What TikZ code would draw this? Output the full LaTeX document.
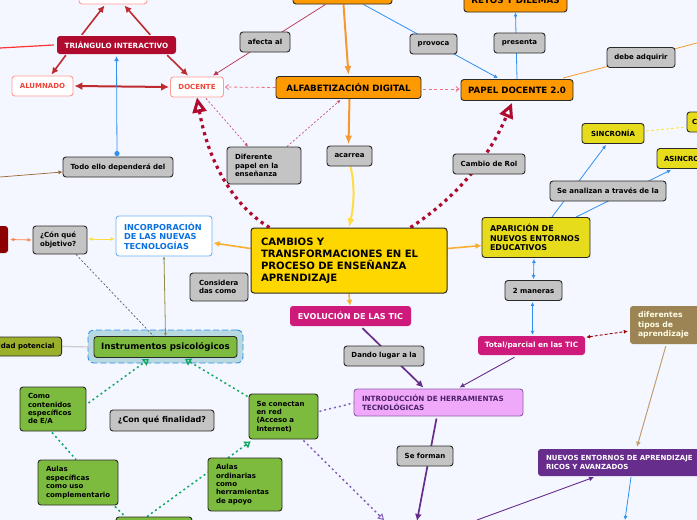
\documentclass[tikz,border=0pt]{standalone}
\usepackage{fontspec}
\setmainfont{DejaVu Sans}
\usepackage{tikz}
\usetikzlibrary{arrows.meta}
\pgfdeclarelayer{halolayer}
\pgfdeclarelayer{edgelayer}
\pgfsetlayers{halolayer,edgelayer,main}
\tikzset{>=latex}
\definecolor{mapback}{HTML}{F4F7FF}
\definecolor{grayfill}{HTML}{C4C4C4}
\definecolor{inkline}{HTML}{2A2A2A}
\definecolor{crimson}{HTML}{B00A2E}
\definecolor{redtext}{HTML}{F04438}
\definecolor{redline}{HTML}{FF9A98}
\definecolor{tribar}{HTML}{BE2A2E}
\definecolor{orangefill}{HTML}{FF9900}
\definecolor{orangeline}{HTML}{F7982E}
\definecolor{softorange}{HTML}{F9B030}
\definecolor{softyellow}{HTML}{FFDC40}
\definecolor{goldfill}{HTML}{FFD700}
\definecolor{limefill}{HTML}{E6DC1C}
\definecolor{greenfill}{HTML}{7DBB3E}
\definecolor{olivefill}{HTML}{9BAF2A}
\definecolor{magfill}{HTML}{CE1A7A}
\definecolor{purplefill}{HTML}{662D8C}
\definecolor{pinkfill}{HTML}{F0A8FA}
\definecolor{brownfill}{HTML}{9C8454}
\definecolor{tanline}{HTML}{C0A070}
\definecolor{bluetext}{HTML}{0A70E0}
\definecolor{blueline}{HTML}{2E90F0}
\definecolor{dotgreen}{HTML}{10A860}
\definecolor{dotviolet}{HTML}{8060B8}
\definecolor{dashpink}{HTML}{F07080}
\tikzset{
  mapnode/.style={rectangle, rounded corners=3pt, inner sep=0pt, align=left,
    font=\bfseries\fontsize{7}{8.4}\selectfont},
  sized/.style 2 args={minimum width=#1, minimum height=#2},
  graybox/.style={mapnode, fill=grayfill, draw=inkline, line width=0.9pt, text=black},
  orangebox/.style={mapnode, fill=orangefill, draw=inkline, line width=0.9pt, text=black,
    font=\bfseries\fontsize{8.7}{10}\selectfont},
  limebox/.style={mapnode, fill=limefill, draw=inkline, line width=0.9pt, text=black},
  greenbox/.style={mapnode, fill=greenfill, draw=inkline, line width=0.9pt, text=black},
  magbox/.style={mapnode, fill=magfill, text=white},
  outlinebox/.style={mapnode, fill=white, draw=redline, line width=0.9pt, text=redtext},
  thinblue/.style={draw=blueline, line width=0.8pt},
  bluearrow/.style={thinblue, -{Latex[length=4pt,width=4pt]}},
  bluetwin/.style={thinblue, {Latex[length=4pt,width=4pt]}-{Latex[length=4pt,width=4pt]}},
  triarrow/.style={draw=tribar, line width=1.6pt, -{Latex[length=7pt,width=7pt]}},
  purplearrow/.style={draw=purplefill, line width=1.7pt, -{Latex[length=7pt,width=7pt]}},
  purplethin/.style={draw=purplefill, line width=0.9pt, -{Latex[length=5pt,width=5pt]}},
  orangearrow/.style={draw=orangeline, line width=2pt, -{Latex[length=9pt,width=7pt]}},
  softarrow/.style={draw=softorange, line width=1.6pt, -{Latex[length=6pt,width=6pt]}},
  pinkdash/.style={draw=dashpink, line width=0.8pt, dash pattern=on 3pt off 2.5pt,
    -{Straight Barb[length=3pt,width=5pt]}},
  reddots/.style={draw=crimson!70!white, line width=0.7pt, dash pattern=on 2pt off 2pt,
    -{Latex[length=3.5pt,width=3.5pt]}},
  bigdots/.style={draw=crimson, line width=3.2pt, dash pattern=on 3.2pt off 4pt,
    -{Triangle[open,length=15pt,width=14pt,line width=3pt]}},
  greendots/.style={draw=dotgreen, line width=1.5pt, dash pattern=on 2pt off 3pt},
  greenarrow/.style={greendots, -{Triangle[open,length=6pt,width=8pt,line width=1.4pt]}},
  violetdots/.style={draw=dotviolet, line width=1.5pt, dash pattern=on 2pt off 3pt}
}

\begin{document}
\begin{tikzpicture}[x=1pt, y=-1pt]

  \useasboundingbox (0,0) rectangle (697,520);
  \begin{pgfonlayer}{halolayer}
    \fill[mapback] (0,0) rectangle (697,520);
  \end{pgfonlayer}

  % Nodes, top row
  \node[outlinebox, sized={68pt}{24pt}]   (triTop)   at (113,-8)    {};
  \node[orangebox, sized={99pt}{24pt}]    (digiTop)  at (342.5,-8)  {};
  \node[orangebox, sized={103pt}{23pt}]   (retos)    at (515.5,0.5) {RETOS Y DILEMAS};
  \node[mapnode, fill=crimson, text=white, sized={119pt}{18pt}, font=\bfseries\fontsize{7.2}{9}\selectfont] (triangulo) at (116.5,45) {TRIÁNGULO INTERACTIVO};
  \node[graybox, sized={50pt}{20pt}]      (afecta)   at (265,42)    {afecta al};
  \node[graybox, sized={47pt}{20pt}]      (provoca)  at (433.5,44)  {provoca};
  \node[graybox, sized={51pt}{20pt}]      (presenta) at (519.5,43)  {presenta};
  \node[graybox, sized={68pt}{20pt}]      (adquirir) at (641,57.5)  {debe adquirir};

  % Nodes, second row
  \node[outlinebox, sized={61pt}{20pt}]   (alumnado) at (42.5,86)   {ALUMNADO};
  \node[outlinebox, sized={53pt}{20pt}]   (docente)  at (197,87)    {DOCENTE};
  \node[orangebox, sized={145pt}{22pt}]   (alfab)    at (348.5,87.5) {ALFABETIZACIÓN DIGITAL};
  \node[orangebox, sized={112pt}{21pt}]   (papel)    at (517,90)    {PAPEL DOCENTE 2.0};
  \node[limebox, sized={62pt}{20pt}]      (sincronia) at (613,133.5) {SINCRONÍA};
  \node[limebox, sized={40pt}{20pt}, text width=30pt] (continua) at (707,122) {C};
  \node[limebox, sized={80pt}{20pt}, text width=66pt] (asincronia) at (697,158.5) {ASINCRONÍA};
  \node[graybox, sized={110pt}{20pt}]     (depende)  at (118,167)   {Todo ello dependerá del};
  \node[graybox, sized={74pt}{37pt}, text width=58pt] (diferente) at (264,165.5) {Diferente\\papel en la\\enseñanza};
  \node[graybox, sized={45pt}{20pt}]      (acarrea)  at (349.5,156) {acarrea};
  \node[graybox, sized={72pt}{20pt}]      (cambioRol) at (489,164)  {Cambio de Rol};
  \node[graybox, sized={116pt}{20pt}]     (analizan) at (608,191)   {Se analizan a través de la};

  % Nodes, centre
  \node[mapnode, fill=goldfill, draw=inkline, line width=1pt, text=black, sized={196pt}{65pt},
    text width=176pt, font=\bfseries\fontsize{10.1}{12}\selectfont] (cambios) at (349,260.5)
    {CAMBIOS Y\\TRANSFORMACIONES EN EL\\PROCESO DE ENSEÑANZA\\APRENDIZAJE};
  \node[mapnode, fill=limefill, draw=inkline, line width=0.9pt, sized={108pt}{40pt}, text width=92pt,
    font=\bfseries\fontsize{8}{9.6}\selectfont] (aparicion) at (536,237.5)
    {APARICIÓN DE\\NUEVOS ENTORNOS\\EDUCATIVOS};
  \node[mapnode, fill=white, draw=blueline!70, line width=0.9pt, text=bluetext, sized={96pt}{40pt},
    text width=80pt, font=\bfseries\fontsize{8.2}{9.6}\selectfont] (incorpora) at (164,236)
    {INCORPORACIÓN\\DE LAS NUEVAS\\TECNOLOGÍAS};
  \node[graybox, sized={54pt}{28pt}, text width=40pt] (objetivo) at (60,240) {¿Cón qué\\objetivo?};
  \node[mapnode, fill=red!55!black, sized={30pt}{27pt}] (oscuro) at (-7,239.5) {};
  \node[graybox, sized={58pt}{28pt}, text width=40pt] (considera) at (219,287) {Considera\\das como};
  \node[magbox, sized={121pt}{20pt}, font=\bfseries\fontsize{8.1}{9}\selectfont] (evolucion) at (350.5,316) {EVOLUCIÓN DE LAS TIC};
  \node[graybox, sized={57pt}{20pt}]      (maneras)  at (533.5,290.5) {2 maneras};
  \node[magbox, sized={107pt}{19pt}, font=\bfseries\fontsize{7.3}{9}\selectfont] (total) at (531.5,345.5) {Total/parcial en las TIC};
  \node[mapnode, fill=brownfill, text=white!90!yellow, sized={80pt}{38pt}, text width=64pt,
    font=\bfseries\fontsize{7.7}{9.2}\selectfont] (tipos) at (670,325) {diferentes\\tipos de\\aprendizaje};

  % Nodes, lower part
  \node[greenbox, sized={143pt}{21pt}, font=\bfseries\fontsize{8.7}{10}\selectfont] (instrumentos) at (165.5,347) {Instrumentos psicológicos};
  \begin{pgfonlayer}{halolayer}
    \node[rectangle, rounded corners=6pt, fill=teal!25!mapback, draw=blueline, dash pattern=on 6pt off 3pt, line width=0.9pt,
      sized={155pt}{33pt}] (halo) at (165.5,346.5) {};
  \end{pgfonlayer}
  \node[mapnode, fill=olivefill, draw=inkline, line width=0.9pt, anchor=east, sized={70pt}{19pt}] (potencial) at (62,346.5) {idad potencial};
  \node[graybox, sized={80pt}{20pt}]      (dando)    at (384,356)   {Dando lugar a la};
  \node[mapnode, fill=pinkfill, draw=purplefill!75, line width=0.9pt, text=purplefill!75!black, sized={169pt}{27pt},
    text width=153pt, font=\bfseries\fontsize{7.2}{9}\selectfont] (introduccion) at (438.5,402.5)
    {INTRODUCCIÓN DE HERRAMIENTAS\\TECNOLÓGICAS};
  \node[greenbox, sized={66pt}{44pt}, text width=50pt] (contenidos) at (53,409) {Como\\contenidos\\específicos\\de E/A};
  \node[graybox, sized={104pt}{21pt}, font=\bfseries\fontsize{8}{9}\selectfont] (finalidad) at (162,420.5) {¿Con qué finalidad?};
  \node[greenbox, sized={69pt}{45pt}, text width=54pt] (conectan) at (283.5,416.5) {Se conectan\\en red\\(Acceso a\\Internet)};
  \node[graybox, sized={56pt}{20pt}]      (forman)   at (425,456)   {Se forman};
  \node[greenbox, sized={80pt}{45pt}, text width=64pt] (especificas) at (78,482.5) {Aulas\\específicas\\como uso\\complementario};
  \node[greenbox, sized={74pt}{53pt}, text width=58pt] (ordinarias) at (245,484.5) {Aulas\\ordinarias\\como\\herramientas\\de apoyo};
  \node[greenbox, sized={76pt}{24pt}]     (aulaBajo) at (154,529)   {};
  \node[mapnode, fill=purplefill, text=white, sized={170pt}{27pt}, text width=154pt,
    font=\bfseries\fontsize{7}{8.4}\selectfont] (nuevos) at (623,462.5)
    {NUEVOS ENTORNOS DE APRENDIZAJE\\RICOS Y AVANZADOS};

  % Free ends beyond the page
  \coordinate (izqRoja) at (0,48);
  \coordinate (izqMarron) at (0,177);
  \coordinate (derNaranja) at (697,43);
  \coordinate (bajoVioleta) at (384,520);
  \coordinate (bajoForman) at (417,521);
  \coordinate (bajoNuevos) at (477,520);
  \coordinate (bajoAzul) at (625,520);

  % Edges
  \begin{pgfonlayer}{edgelayer}
    % triangle
    \draw[draw=red!80!white, line width=1.2pt] (izqRoja) -- ([xshift=-3pt]triangulo.west);
    \draw[triarrow] ([xshift=25pt,yshift=1pt]triangulo.north west) -- ([xshift=26pt,yshift=-1pt]triTop.south west);
    \draw[triarrow] ([xshift=-26pt,yshift=1pt]triangulo.north east) -- ([xshift=-23pt,yshift=-1pt]triTop.south east);
    \draw[triarrow] ([xshift=9pt,yshift=-1pt]triangulo.south west) -- ([xshift=-22pt,yshift=1pt]alumnado.north east);
    \draw[triarrow] ([xshift=-9pt,yshift=-1pt]triangulo.south east) -- ([xshift=18pt,yshift=1pt]docente.north west);
    \draw[draw=tribar, line width=2pt, {Latex[length=8pt,width=8pt]}-{Latex[length=8pt,width=8pt]}] ([xshift=1pt]alumnado.east) -- ([xshift=-1pt]docente.west);
    \draw[thinblue, -{Latex[length=5pt,width=5pt]}] ([xshift=-1pt,yshift=2pt]depende.north) -- ([yshift=-2pt]triangulo.south);
    \fill[blueline] ([xshift=-1pt,yshift=3pt]depende.north) circle (2.6pt);
    \draw[draw=brown!80!black, line width=0.7pt, -{Latex[length=4pt,width=4pt]}] (izqMarron) -- ([yshift=-5pt]depende.west);
    % digital literacy
    \draw[draw=crimson!85, line width=0.7pt, -{Latex[length=5pt,width=5pt]}] ([xshift=-17pt]digiTop.south) -- ([xshift=16pt,yshift=1pt]docente.north);
    \draw[orangearrow] ([xshift=1pt]digiTop.south) -- ([yshift=1pt]alfab.north);
    \draw[bluearrow] ([xshift=21pt]digiTop.south) -- ([xshift=-19pt,yshift=1pt]papel.north);
    \draw[bluearrow] (papel.north) -- (retos.south);
    \draw[draw=orangeline, line width=0.8pt] ([xshift=46pt,yshift=1pt]papel.north) -- (derNaranja);
    \draw[pinkdash] (alfab.west) -- ([xshift=1pt]docente.east);
    \draw[pinkdash] ([xshift=2pt,yshift=-1.5pt]alfab.east) -- ([xshift=-1pt,yshift=1pt]papel.west);
    \draw[reddots] ([xshift=9pt,yshift=-1pt]docente.south) -- ([xshift=-16pt]diferente.north);
    \draw[reddots] ([xshift=23pt]diferente.north) -- ([xshift=-8pt,yshift=-1pt]alfab.south);
    \draw[orangearrow] ([xshift=1pt]alfab.south) -- ([xshift=-1pt,yshift=1pt]acarrea.north);
    \draw[draw=softyellow, line width=2pt, -{Latex[length=9pt,width=7pt]}] ([xshift=1pt]acarrea.south) .. controls (355,185) and (354,205) .. (cambios.north);
    % central links
    \draw[bigdots] ([xshift=19pt]cambios.north west) .. controls (232,205) and (208,160) .. (docente.south);
    \draw[bigdots] ([xshift=-37pt]cambios.north east) .. controls (460,195) and (490,155) .. ([xshift=-5pt,yshift=-2pt]papel.south);
    \draw[softarrow] ([yshift=12pt]cambios.east) -- ([yshift=-8pt]aparicion.west);
    \draw[softarrow] ([yshift=12pt]cambios.west) -- ([xshift=1pt,yshift=-7pt]incorpora.east);
    \draw[softarrow] (cambios.south) -- ([xshift=-0.5pt]evolucion.north);
    \draw[draw=softyellow, line width=0.8pt, {Latex[length=4pt,width=4pt]}-{Latex[length=4pt,width=4pt]}] ([xshift=-1pt,yshift=-3pt]incorpora.west) -- ([xshift=1pt,yshift=1pt]objetivo.east);
    \draw[draw=orange!60!red!70, line width=0.8pt, {Latex[length=4pt,width=4pt]}-{Latex[length=4pt,width=4pt]}] ([xshift=-1pt]objetivo.west) -- ([xshift=2pt]oscuro.east);
    \draw[draw=black!65, line width=0.7pt, dash pattern=on 2pt off 2pt] ([xshift=16pt]objetivo.south) -- ([xshift=-12pt]instrumentos.north);
    \draw[draw=olive!50!gray, line width=0.8pt, {Latex[length=3pt,width=3pt]}-{Latex[length=3pt,width=3pt]}] (incorpora.south) -- (instrumentos.north);
    \draw[draw=gray!40, line width=1.2pt] (potencial.east) -- (instrumentos.west);
    % right side
    \draw[bluetwin] ([xshift=-2pt,yshift=-1pt]aparicion.south) -- ([yshift=1pt]maneras.north);
    \draw[bluetwin] ([xshift=-1pt,yshift=-1pt]maneras.south) -- ([xshift=1pt,yshift=1pt]total.north);
    \draw[bluearrow] ([xshift=16pt]aparicion.north) -- ([xshift=-7pt,yshift=-1pt]sincronia.south);
    \draw[bluearrow] ([xshift=40pt]aparicion.north) -- ([xshift=-26pt,yshift=-1pt]asincronia.south);
    \draw[draw=softyellow!70!yellow, line width=0.8pt, dash pattern=on 3pt off 2pt] ([xshift=1.5pt,yshift=2.5pt]sincronia.east) -- ([yshift=-5pt]continua.west);
    \draw[draw=red!60!black, line width=0.9pt, dash pattern=on 3pt off 2pt, {Latex[length=4pt,width=4pt]}-{Latex[length=4pt,width=4pt]}] ([xshift=1pt,yshift=18pt]total.south east) -- ([xshift=-2pt,yshift=13pt]tipos.south west);
    \draw[draw=tanline, line width=1pt, -{Latex[length=5pt,width=5pt]}] ([xshift=36pt,yshift=-2pt]tipos.south west) -- ([xshift=14pt,yshift=2pt]nuevos.north);
    \draw[bluearrow] ([xshift=8pt,yshift=-1pt]nuevos.south) -- (bajoAzul);
    \draw[purplethin] ([xshift=-17pt,yshift=-2pt]total.south) -- ([xshift=21pt,yshift=1pt]introduccion.north);
    \draw[purplearrow] ([xshift=12pt,yshift=-2pt]evolucion.south) -- ([xshift=-15pt,yshift=1pt]introduccion.north);
    \draw[purplearrow] ([xshift=-2pt,yshift=-2pt]introduccion.south) -- (bajoForman);
    \draw[purplethin] (bajoNuevos) -- ([xshift=-29pt,yshift=-1pt]nuevos.south);
    % green dots
    \draw[greenarrow] ([xshift=2pt,yshift=6pt]contenidos.east) -- ([xshift=-16.5pt,yshift=-1pt]instrumentos.south);
    \draw[greenarrow] ([xshift=-1pt,yshift=20pt]conectan.west) -- ([xshift=19.5pt,yshift=-1pt]instrumentos.south);
    \draw[greendots] ([xshift=-1pt,yshift=-1pt]contenidos.south) -- ([xshift=-2pt]especificas.north);
    \draw[greendots] ([xshift=37pt,yshift=-1pt]especificas.south) -- ([xshift=-29pt]aulaBajo.north);
    \draw[greenarrow] ([xshift=-7pt]aulaBajo.north) -- ([xshift=2pt,yshift=-2pt]conectan.south west);
    \draw[violetdots] ([xshift=1pt,yshift=5pt]conectan.east) .. controls (330,408) and (345,406) .. (introduccion.west);
    \draw[violetdots, -{Triangle[open,length=6pt,width=7pt,line width=1pt]}] ([xshift=20pt,yshift=-1pt]conectan.south) -- (bajoVioleta);
  \end{pgfonlayer}

\end{tikzpicture}
\end{document}
